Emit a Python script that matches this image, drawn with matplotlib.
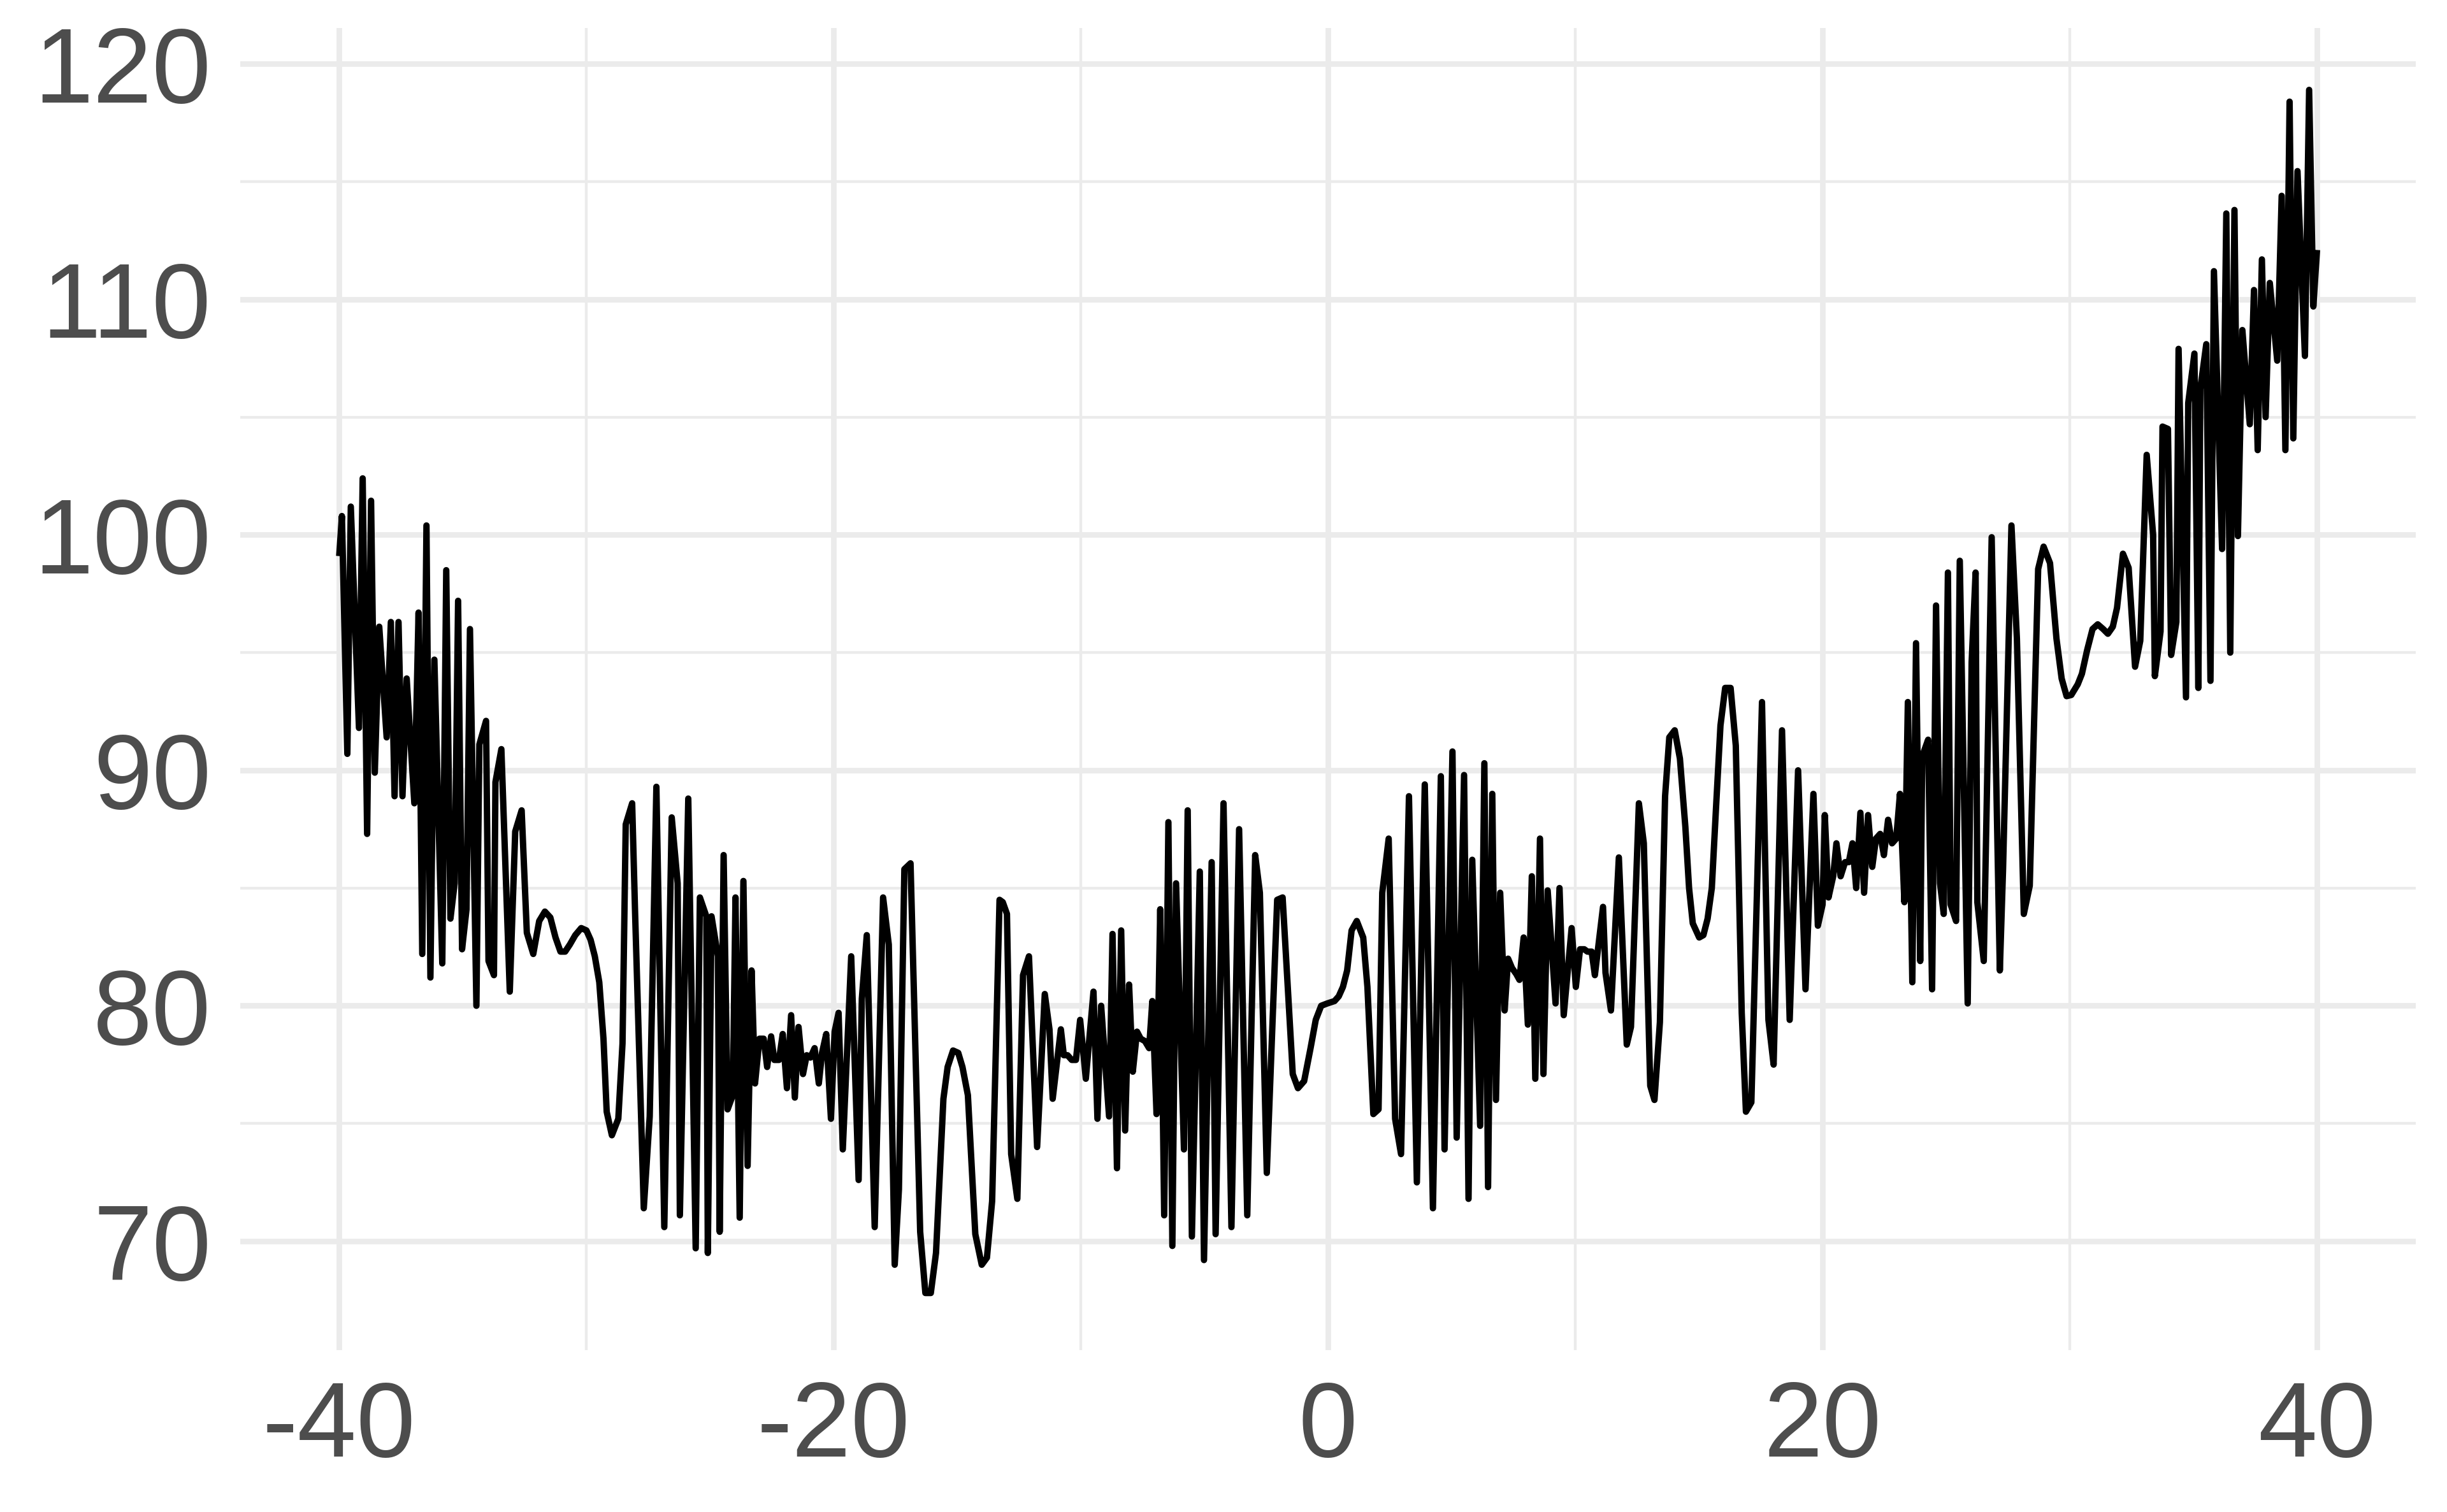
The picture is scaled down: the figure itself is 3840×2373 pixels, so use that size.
import matplotlib
matplotlib.use('Agg')
import matplotlib.pyplot as plt

# vertices, left to right
x_vals = [-40.00, -39.89, -39.67, -39.53, -39.20, -39.05, -38.87, -38.71, -38.56, -38.38,
          -38.08, -37.91, -37.76, -37.60, -37.44, -37.27, -36.96, -36.79, -36.64, -36.47,
          -36.31, -36.15, -35.83, -35.67, -35.50, -35.33, -35.19, -35.03, -34.85, -34.71,
          -34.45, -34.33, -34.06, -33.96, -33.74, -33.68, -33.44, -33.10, -32.88, -32.62,
          -32.41, -32.15, -31.91, -31.68, -31.46, -31.25, -31.05, -30.86, -30.67, -30.45,
          -30.21, -30.00,
          -29.83, -29.66, -29.48, -29.31, -29.18, -28.97, -28.71, -28.54, -28.41, -28.15,
          -28.03, -27.68, -27.44, -27.17, -26.85, -26.55, -26.31, -26.22, -25.88, -25.58,
          -25.41, -25.15, -25.09, -24.94, -24.68, -24.61, -24.45, -24.29, -24.08, -23.97,
          -23.80, -23.65, -23.48, -23.32, -23.18, -23.00, -22.83, -22.69, -22.53, -22.40,
          -22.21, -22.06, -21.89, -21.72, -21.57, -21.42, -21.24, -21.09, -20.94, -20.77,
          -20.60, -20.47, -20.30, -20.11, -19.96,
          -19.80, -19.63, -19.29, -18.99, -18.86, -18.66, -18.34, -18.00, -17.77, -17.53,
          -17.36, -17.14, -16.89, -16.50, -16.29, -16.07, -15.86, -15.56, -15.39, -15.17,
          -14.96, -14.79, -14.57, -14.27, -14.01, -13.80, -13.59, -13.29, -13.16, -12.99,
          -12.82, -12.57, -12.34, -12.10, -11.77, -11.46, -11.27, -11.14, -10.81, -10.69,
          -10.54, -10.37, -10.20, -10.03,
          -9.80, -9.49, -9.33, -9.18, -8.86, -8.72, -8.54, -8.37, -8.21, -8.05,
          -7.90, -7.73, -7.58, -7.41, -7.24, -7.11, -6.94, -6.79, -6.63, -6.46,
          -6.30, -6.15, -5.83, -5.68, -5.51, -5.19, -5.02, -4.71, -4.55, -4.23,
          -3.91, -3.60, -3.27, -2.95, -2.76, -2.48, -2.06, -1.84, -1.43, -1.22,
          -0.97, -0.71, -0.50, -0.28, -0.03,
          0.26, 0.43, 0.60, 0.77, 0.95, 1.16, 1.42, 1.59, 1.83, 2.04,
          2.19, 2.45, 2.71, 2.95, 3.27, 3.59, 3.91, 4.24, 4.56, 4.71,
          5.03, 5.20, 5.50, 5.68, 5.83, 6.15, 6.32, 6.47, 6.64, 6.79,
          6.96, 7.14, 7.28, 7.44, 7.61, 7.74, 7.91, 8.08, 8.24, 8.38,
          8.57, 8.71, 8.88, 9.20, 9.36, 9.53, 9.85, 10.02,
          10.19, 10.36, 10.49, 10.66, 10.79, 11.12, 11.22, 11.44, 11.76, 12.08,
          12.25, 12.57, 12.77, 13.03, 13.20, 13.42, 13.63, 13.80, 14.02, 14.23,
          14.45, 14.60, 14.75, 15.01, 15.18, 15.35, 15.52, 15.70, 15.87, 16.06,
          16.28, 16.49, 16.73, 16.90, 17.12, 17.55, 17.81, 18.02, 18.36, 18.67,
          19.01, 19.31, 19.63, 19.81, 20.00,
          20.09, 20.24, 20.43, 20.56, 20.73, 20.91, 21.06, 21.21, 21.36, 21.53,
          21.68, 21.84, 22.01, 22.16, 22.33, 22.48, 22.65, 22.81, 22.98, 23.13,
          23.31, 23.45, 23.63, 23.78, 23.95, 24.03, 24.27, 24.43, 24.59, 24.75,
          24.90, 25.07, 25.18, 25.40, 25.55, 25.87, 26.03, 26.19, 26.26, 26.52,
          26.84, 27.17, 27.30, 27.64, 27.86, 28.14, 28.38, 28.72, 28.94, 29.20,
          29.46, 29.67, 29.87, 30.06,
          30.32, 30.49, 30.70, 30.92, 31.13, 31.35, 31.54, 31.74, 31.91, 32.15,
          32.38, 32.64, 32.85, 33.11, 33.37, 33.44, 33.67, 33.75, 33.97, 34.10,
          34.31, 34.40, 34.70, 34.79, 35.04, 35.20, 35.28, 35.52, 35.69, 35.83,
          36.16, 36.33, 36.49, 36.66, 36.80, 36.98, 37.28, 37.45, 37.60, 37.77,
          37.92, 38.09, 38.39, 38.57, 38.72, 38.89, 39.04, 39.21, 39.51, 39.68,
          39.85, 40.00]

y_vals = [99.1, 100.8, 90.7, 101.2, 91.8, 102.4, 87.3, 101.45, 89.9, 96.1,
          91.4, 96.3, 88.9, 96.3, 88.9, 93.9, 88.6, 96.7, 82.2, 100.4,
          81.2, 94.7, 81.8, 98.5, 83.7, 85.2, 97.2, 82.4, 84.1, 96.0,
          80.0, 91.1, 92.1, 81.9, 81.3, 89.5, 90.9, 80.6, 87.4, 88.3,
          83.1, 82.2, 83.6, 84.0, 83.75, 82.9, 82.3, 82.3, 82.6, 83.0,
          83.3, 83.2,
          82.8, 82.1, 81.0, 78.6, 75.5, 74.5, 75.2, 78.4, 87.7, 88.6,
          83.9, 71.4, 75.3, 89.3, 70.6, 88.0, 85.2, 71.1, 88.8, 69.7,
          84.6, 83.8, 69.5, 83.8, 82.1, 70.4, 86.4, 75.6, 76.2, 84.6,
          71.0, 85.3, 73.2, 81.5, 76.7, 78.6, 78.6, 77.4, 78.7, 77.7,
          77.7, 78.8, 76.5, 79.6, 76.1, 79.1, 77.1, 77.9, 77.8, 78.2,
          76.7, 78.0, 78.8, 75.2, 78.9,
          79.7, 73.9, 82.1, 72.6, 80.3, 83.0, 70.6, 84.6, 82.6, 69.0,
          72.2, 85.8, 86.05, 70.4, 67.8, 67.8, 69.5, 76.05, 77.4, 78.1,
          78.0, 77.4, 76.2, 70.3, 69.0, 69.3, 71.7, 84.5, 84.4, 83.9,
          73.7, 71.8, 81.3, 82.1, 74.0, 80.5, 79.0, 76.05, 79.0, 77.9,
          77.9, 77.7, 77.7, 79.4,
          76.9, 80.6, 75.2, 80.0, 75.3, 83.05, 73.1, 83.2, 74.7, 80.9,
          77.2, 78.9, 78.6, 78.5, 78.2, 80.2, 75.4, 84.1, 71.1, 87.8,
          69.8, 85.2, 73.9, 88.3, 70.2, 85.7, 69.2, 86.1, 70.3, 88.6,
          70.6, 87.5, 71.1, 86.4, 84.8, 72.9, 84.5, 84.6, 77.1, 76.5,
          76.8, 78.2, 79.4, 80.0, 80.1,
          80.2, 80.4, 80.8, 81.5, 83.2, 83.6, 82.9, 80.8, 75.4, 75.6,
          84.8, 87.1, 75.2, 73.7, 88.9, 72.5, 89.4, 71.4, 89.75, 73.9,
          90.8, 74.4, 89.8, 71.8, 86.2, 74.9, 90.3, 72.3, 89.0, 76.0,
          84.8, 79.8, 82.0, 81.6, 81.35, 81.1, 82.9, 79.2, 85.5, 76.9,
          87.1, 77.1, 84.9, 80.1, 85.0, 79.6, 83.3, 80.8,
          82.4, 82.4, 82.3, 82.3, 81.3, 84.2, 81.4, 79.8, 86.3, 78.35,
          79.1, 88.6, 86.9, 76.6, 76.0, 79.3, 88.9, 91.4, 91.7, 90.5,
          87.6, 85.0, 83.5, 82.9, 83.0, 83.7, 85.0, 88.6, 91.9, 93.5,
          93.5, 91.05, 79.7, 75.5, 75.9, 92.9, 79.4, 77.5, 91.7, 79.4,
          90.0, 80.7, 89.0, 83.4, 84.3,
          88.1, 84.6, 85.5, 86.9, 85.5, 86.1, 86.1, 86.9, 85.0, 88.2,
          84.8, 88.1, 85.9, 87.1, 87.3, 86.4, 87.9, 86.9, 87.1, 89.0,
          84.4, 92.9, 81.0, 95.4, 81.9, 90.6, 91.3, 80.7, 97.0, 85.2,
          83.9, 98.4, 84.3, 83.6, 98.9, 80.1, 94.6, 98.4, 84.4, 81.9,
          99.9, 81.5, 85.8, 100.4, 95.6, 83.9, 85.1, 98.55, 99.5, 98.8,
          95.6, 93.9, 93.15, 93.2,
          93.65, 94.1, 95.1, 96.0, 96.2, 96.0, 95.8, 96.1, 96.9, 99.2,
          98.6, 94.4, 95.5, 103.4, 100.0, 94.0, 95.9, 104.6, 104.5, 94.9,
          96.3, 107.9, 93.1, 105.6, 107.7, 93.5, 106.2, 108.1, 93.8, 111.2,
          99.4, 113.65, 95.0, 113.8, 99.95, 108.7, 104.7, 110.4, 103.6, 111.7,
          105.0, 110.7, 107.4, 114.4, 103.6, 118.4, 104.1, 115.45, 107.6, 118.9,
          109.7, 112.1]

x_major = [-40, -20, 0, 20, 40]
x_minor = [-30, -10, 10, 30]
y_major = [70, 80, 90, 100, 110, 120]
y_minor = [75, 85, 95, 105, 115]

plt.rcParams['font.family'] = ['Liberation Sans', 'DejaVu Sans']
plt.rcParams['axes.unicode_minus'] = False

fig = plt.figure(figsize=(12.8, 7.91), dpi=300)
ax = fig.add_axes([0.0982, 0.107, 0.8891, 0.8745])

ax.plot(x_vals, y_vals, color='black', linewidth=2.4,
        solid_joinstyle='round', solid_capstyle='butt', zorder=3)

ax.set_xlim(-44, 44)
ax.set_ylim(65.37, 121.53)
ax.set_xticks(x_major)
ax.set_xticks(x_minor, minor=True)
ax.set_yticks(y_major)
ax.set_yticks(y_minor, minor=True)

ax.grid(which='major', color='#EBEBEB', linewidth=2.1)
ax.grid(which='minor', color='#EBEBEB', linewidth=1.05)
ax.set_axisbelow(True)

for s in ax.spines.values():
    s.set_visible(False)
ax.tick_params(which='both', length=0)
ax.tick_params(axis='x', labelsize=40, labelcolor='#4D4D4D', pad=11)
ax.tick_params(axis='y', labelsize=40, labelcolor='#4D4D4D', pad=11)

fig.savefig('out.png', dpi=300)
